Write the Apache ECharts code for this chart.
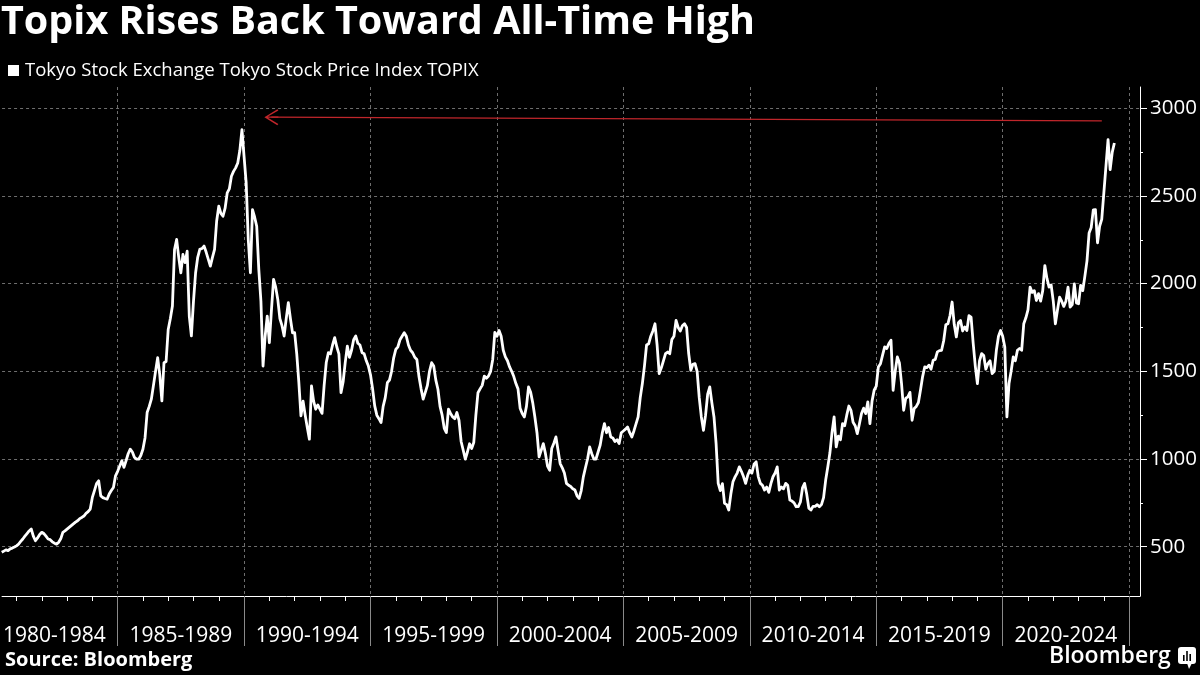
<!DOCTYPE html>
<html>
<head>
<meta charset="utf-8">
<script src="https://cdn.jsdelivr.net/npm/echarts@6/dist/echarts.min.js"></script>
<style>
  html, body { margin: 0; padding: 0; background: #000; }
  #chart { width: 1200px; height: 675px; }
</style>
</head>
<body>
<div id="chart"></div>
<script>
// ---- Data (monthly TOPIX levels) ----
const seriesName = 'Tokyo Stock Exchange Tokyo Stock Price Index TOPIX';
const firstMonth = [1980, 6];
const topix1980s = [
  468, 475, 482, 478, 488, 492, 498,
  505, 515, 530, 544, 560, 575, 590, 601, 560, 534, 550, 570,
  582, 575, 560, 544, 540, 528, 520, 515, 525, 545, 582, 590,
  600, 610, 620, 630, 640, 648, 660, 667, 675, 690, 700, 715,
  781, 820, 860, 876, 790, 780, 775, 771, 800, 820, 838, 904,
  930, 960, 990, 952, 990, 1030, 1056, 1040, 1009, 1000, 999, 1020,
  1056, 1120, 1265, 1300, 1341, 1420, 1500, 1578, 1480, 1331, 1549, 1556,
  1739, 1800, 1872, 2195, 2252, 2150, 2062, 2166, 2120, 2185, 1815, 1702,
  1900, 2062, 2150, 2195, 2200, 2214, 2180, 2140, 2100, 2150, 2195, 2357,
  2442, 2400, 2384, 2430, 2517, 2540, 2612, 2640, 2660, 2688, 2760, 2878
];
const topix1990s = [
  2726, 2574, 2250, 2062, 2422, 2380, 2327, 2080, 1900, 1530, 1700, 1815,
  1663, 1850, 2024, 1980, 1910, 1800, 1760, 1701, 1800, 1891, 1800, 1720,
  1720, 1600, 1435, 1246, 1330, 1250, 1180, 1113, 1417, 1330, 1284, 1308,
  1284, 1260, 1420, 1550, 1606, 1600, 1650, 1692, 1640, 1600, 1378, 1439,
  1550, 1644, 1580, 1620, 1680, 1701, 1660, 1650, 1606, 1600, 1560, 1530,
  1480, 1400, 1303, 1250, 1230, 1208, 1300, 1350, 1435, 1450, 1500, 1577,
  1625, 1640, 1680, 1700, 1720, 1700, 1650, 1620, 1606, 1580, 1568, 1470,
  1400, 1341, 1380, 1420, 1500, 1549, 1530, 1450, 1398, 1300, 1250, 1175,
  1151, 1284, 1260, 1240, 1230, 1265, 1220, 1100, 1050, 999, 1040, 1087,
  1060, 1094, 1250, 1378, 1400, 1420, 1473, 1460, 1473, 1500, 1568, 1722
];
const topix2000s = [
  1700, 1733, 1700, 1620, 1582, 1560, 1525, 1500, 1470, 1430, 1400, 1290,
  1259, 1240, 1300, 1411, 1380, 1320, 1240, 1150, 1012, 1050, 1088, 1032,
  960, 936, 1060, 1090, 1126, 1050, 974, 950, 920, 861, 850, 843,
  830, 823, 790, 775, 820, 898, 950, 1000, 1069, 1030, 1000, 1000,
  1040, 1080, 1150, 1202, 1150, 1180, 1126, 1120, 1100, 1110, 1088, 1150,
  1160, 1170, 1183, 1150, 1126, 1160, 1200, 1240, 1350, 1430, 1530, 1650,
  1657, 1700, 1730, 1771, 1650, 1487, 1520, 1560, 1601, 1610, 1600, 1681,
  1700, 1790, 1750, 1730, 1760, 1771, 1750, 1600, 1506, 1540, 1544, 1500,
  1350, 1240, 1164, 1250, 1370, 1411, 1320, 1240, 1088, 861, 820, 860,
  747, 740, 709, 800, 870, 898, 920, 955, 930, 900, 861, 907
];
const topix2010s = [
  936, 920, 970, 984, 900, 861, 850, 823, 840, 810, 860, 899,
  920, 955, 823, 840, 830, 861, 850, 766, 760, 750, 728, 729,
  755, 835, 861, 800, 720, 709, 730, 730, 740, 728, 740, 780,
  880, 955, 1034, 1150, 1240, 1069, 1130, 1110, 1202, 1190, 1250, 1302,
  1278, 1210, 1190, 1145, 1200, 1260, 1290, 1259, 1326, 1202, 1330, 1392,
  1415, 1525, 1543, 1592, 1639, 1630, 1659, 1677, 1392, 1500, 1582, 1547,
  1430, 1278, 1347, 1354, 1380, 1221, 1288, 1300, 1322, 1393, 1470, 1525,
  1521, 1535, 1512, 1563, 1568, 1611, 1618, 1620, 1674, 1765, 1771, 1818,
  1895, 1768, 1696, 1777, 1790, 1730, 1753, 1733, 1817, 1809, 1660, 1530,
  1430, 1560, 1601, 1590, 1512, 1544, 1560, 1487, 1500, 1620, 1700, 1733
];
const topix2020s = [
  1700, 1639, 1240, 1430, 1500, 1582, 1560, 1620, 1630, 1620, 1771, 1805,
  1850, 1980, 1950, 1960, 1904, 1943, 1900, 1960, 2103, 2030, 1980, 1992,
  1900, 1771, 1850, 1923, 1900, 1870, 1900, 1980, 1866, 1880, 1999, 1890,
  1885, 1990, 1960, 2043, 2130, 2289, 2320, 2420, 2422, 2233, 2327, 2366,
  2517, 2669, 2821, 2650, 2750, 2802
];
// axis ticks / labels
const bandLabelCenters = [1982.5, 1987.5, 1992.5, 1997.5, 2002.5, 2007.5, 2012.5, 2017.5, 2022.5];
const bandBoundaries = [1985, 1990, 1995, 2000, 2005, 2010, 2015, 2020, 2025];
const yearTicks = [1981,1982,1983,1984,1986,1987,1988,1989,1991,1992,1993,1994,1996,1997,1998,1999,
  2001,2002,2003,2004,2006,2007,2008,2009,2011,2012,2013,2014,2016,2017,2018,2019,2021,2022,2023,2024];
const yMajorTicks = [500, 1000, 1500, 2000, 2500, 3000];
const yMinorTicks = [750, 1250, 1750, 2250, 2750];
// all-time-high arrow (annotation, in data units: [year, level])
const athArrowStart = [1991.08, 2949];
const athArrowEnd = [2023.92, 2928];

// ---- Build series points ----
const allValues = [].concat(topix1980s, topix1990s, topix2000s, topix2010s, topix2020s);
const points = [];
{
  let y = firstMonth[0], m = firstMonth[1];
  for (const v of allValues) {
    points.push([y + (m - 1) / 12, v]);
    m++; if (m > 12) { m = 1; y++; }
  }
}

const FONT = '"Open Sans", "Noto Sans", sans-serif';
const chart = echarts.init(document.getElementById('chart'), null, { renderer: 'canvas' });
const chevron = 'path://M8,0 L16,13 L14.8,14 L8.6,3.6 L8.6,14 L7.4,14 L7.4,3.6 L1.2,14 L0,13 Z';

chart.setOption({
  backgroundColor: '#000',
  animation: false,
  title: {
    text: 'Topix Rises Back Toward All-Time High',
    left: 1, top: 3, padding: 0,
    textStyle: { color: '#fff', fontSize: 39.5, fontWeight: 'bold', fontFamily: FONT }
  },
  legend: {
    data: [seriesName],
    left: 8, top: 61, padding: 0,
    icon: 'rect', itemWidth: 11, itemHeight: 11, itemGap: 6,
    textStyle: { color: '#fff', fontSize: 18.5, fontFamily: FONT, padding: [0, 0, 0, 1] }
  },
  grid: { left: 0, right: 60, top: 87, bottom: 79, containLabel: false },
  xAxis: [
    {
      type: 'value', min: 1980.43, max: 2025.43, position: 'bottom',
      axisLine: { show: true, onZero: false, lineStyle: { color: '#fff', width: 1 } },
      axisTick: { show: true, customValues: bandBoundaries, length: 50, lineStyle: { color: '#8a8a8a', width: 1 } },
      axisLabel: {
        show: true, customValues: bandLabelCenters, margin: 30,
        color: '#fff', fontSize: 21, fontFamily: FONT,
        formatter: v => `${Math.round(v - 2.5)}-${Math.round(v + 1.5)}`
      },
      splitLine: { show: true, lineStyle: { color: '#6e6e6e', type: [3, 3], width: 1 } }
    },
    {
      type: 'value', min: 1980.43, max: 2025.43, position: 'bottom',
      axisLine: { show: false, onZero: false },
      axisTick: { show: true, customValues: yearTicks, length: 5, lineStyle: { color: '#fff', width: 1 } },
      axisLabel: { show: false },
      splitLine: { show: false }
    }
  ],
  yAxis: [
    {
      type: 'value', min: 219, max: 3121, position: 'right',
      axisLine: { show: true, onZero: false, lineStyle: { color: '#fff', width: 1 } },
      axisTick: { show: true, customValues: yMajorTicks, length: 7, lineStyle: { color: '#fff' } },
      axisLabel: {
        show: true, customValues: yMajorTicks, margin: 10, color: '#fff', fontSize: 20.5, fontFamily: FONT,
        formatter: v => String(Math.round(v))
      },
      splitLine: { show: true, lineStyle: { color: '#6e6e6e', type: [3, 3], width: 1 } }
    },
    {
      type: 'value', min: 219, max: 3121, position: 'right',
      axisLine: { show: false, onZero: false },
      axisTick: { show: true, customValues: yMinorTicks, length: 3, lineStyle: { color: '#fff' } },
      axisLabel: { show: false },
      splitLine: { show: false }
    }
  ],
  series: [{
    name: seriesName,
    type: 'line',
    xAxisIndex: 0, yAxisIndex: 0,
    data: points,
    showSymbol: false,
    symbol: 'none',
    itemStyle: { color: '#fff' },
    lineStyle: { color: '#fff', width: 2.8, join: 'round' },
    z: 5,
    markLine: {
      silent: true,
      symbol: [chevron, 'none'],
      symbolSize: [16, 14],
      label: { show: false },
      lineStyle: { color: '#c0262b', width: 1.2, type: 'solid' },
      data: [[ { coord: athArrowStart }, { coord: athArrowEnd } ]]
    }
  }],
  graphic: [
    {
      type: 'text', left: 5, top: 650,
      style: { text: 'Source: Bloomberg', fill: '#fff', font: `bold 20px ${FONT}` }
    },
    {
      type: 'text', left: 1049, top: 645,
      style: { text: 'Bloomberg', fill: '#fff', font: `600 23px ${FONT}` }
    },
    {
      type: 'group', left: 1178, top: 647,
      children: [
        { type: 'rect', shape: { x: 0, y: 0, width: 18, height: 17, r: 3 }, style: { fill: '#fff' } },
        { type: 'polygon', shape: { points: [[9, 16], [14, 16], [11, 22]] }, style: { fill: '#fff' } },
        { type: 'rect', shape: { x: 5, y: 8, width: 1.6, height: 6 }, style: { fill: '#000' } },
        { type: 'rect', shape: { x: 8.2, y: 4, width: 1.6, height: 10 }, style: { fill: '#000' } },
        { type: 'rect', shape: { x: 11.4, y: 7, width: 1.6, height: 7 }, style: { fill: '#000' } }
      ]
    }
  ]
});
</script>
</body>
</html>
